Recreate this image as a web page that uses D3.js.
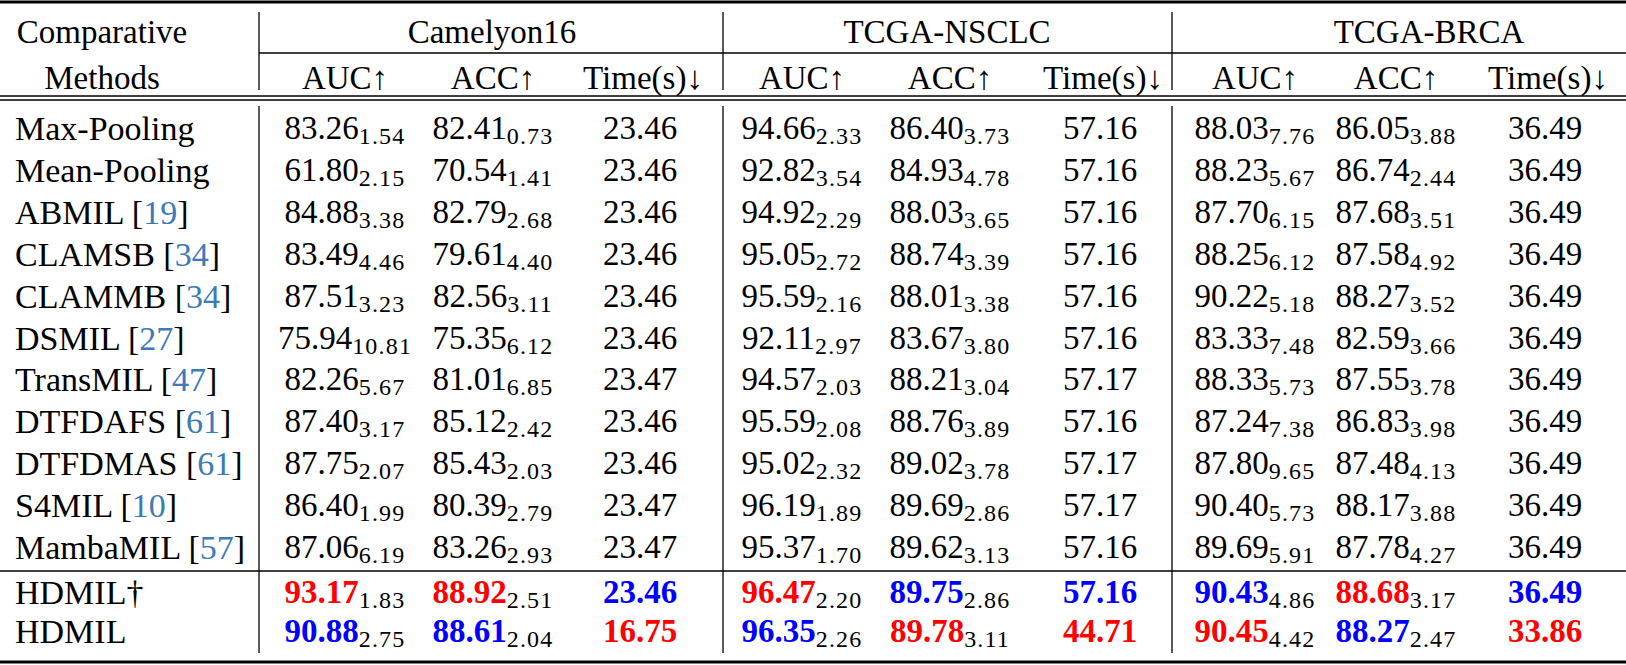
<!DOCTYPE html>
<html><head><meta charset="utf-8">
<script src="https://cdn.jsdelivr.net/npm/d3@7"></script>
<style>body{margin:0;background:#fff}</style></head>
<body><svg id="c" width="1626" height="665"></svg>
<script>
const methods = ["Max-Pooling","Mean-Pooling","ABMIL","CLAMSB","CLAMMB","DSMIL","TransMIL","DTFDAFS","DTFDMAS","S4MIL","MambaMIL","HDMIL†","HDMIL"];
const cites = ["","","19","34","34","27","47","61","61","10","57","",""];
const datasets = ["Camelyon16","TCGA-NSCLC","TCGA-BRCA"];
const metrics = ["AUC↑","ACC↑","Time(s)↓"];
// [mean, std] per row
const camAUC = [[83.26,1.54],[61.80,2.15],[84.88,3.38],[83.49,4.46],[87.51,3.23],[75.94,10.81],[82.26,5.67],[87.40,3.17],[87.75,2.07],[86.40,1.99],[87.06,6.19],[93.17,1.83],[90.88,2.75]];
const camACC = [[82.41,0.73],[70.54,1.41],[82.79,2.68],[79.61,4.40],[82.56,3.11],[75.35,6.12],[81.01,6.85],[85.12,2.42],[85.43,2.03],[80.39,2.79],[83.26,2.93],[88.92,2.51],[88.61,2.04]];
const camTime = [23.46,23.46,23.46,23.46,23.46,23.46,23.47,23.46,23.46,23.47,23.47,23.46,16.75];
const nsAUC = [[94.66,2.33],[92.82,3.54],[94.92,2.29],[95.05,2.72],[95.59,2.16],[92.11,2.97],[94.57,2.03],[95.59,2.08],[95.02,2.32],[96.19,1.89],[95.37,1.70],[96.47,2.20],[96.35,2.26]];
const nsACC = [[86.40,3.73],[84.93,4.78],[88.03,3.65],[88.74,3.39],[88.01,3.38],[83.67,3.80],[88.21,3.04],[88.76,3.89],[89.02,3.78],[89.69,2.86],[89.62,3.13],[89.75,2.86],[89.78,3.11]];
const nsTime = [57.16,57.16,57.16,57.16,57.16,57.16,57.17,57.16,57.17,57.17,57.16,57.16,44.71];
const brAUC = [[88.03,7.76],[88.23,5.67],[87.70,6.15],[88.25,6.12],[90.22,5.18],[83.33,7.48],[88.33,5.73],[87.24,7.38],[87.80,9.65],[90.40,5.73],[89.69,5.91],[90.43,4.86],[90.45,4.42]];
const brACC = [[86.05,3.88],[86.74,2.44],[87.68,3.51],[87.58,4.92],[88.27,3.52],[82.59,3.66],[87.55,3.78],[86.83,3.98],[87.48,4.13],[88.17,3.88],[87.78,4.27],[88.68,3.17],[88.27,2.47]];
const brTime = [36.49,36.49,36.49,36.49,36.49,36.49,36.49,36.49,36.49,36.49,36.49,36.49,33.86];
const hlDagger = ["r","r","b","r","b","b","b","r","b"];
const hlFinal  = ["b","b","r","b","r","r","r","b","r"];

const svg = d3.select("#c");
const SERIF = "'Liberation Serif','Times New Roman',serif";
const colX = [345,493,640,802,950,1100,1255,1396,1545];
const groupX = [492,947,1429];
const vlines = [259,723,1172];
const rowY = d3.scaleLinear().domain([0,10]).range([128,547]);
const yOf = i => i<11 ? rowY(i) : (i===11 ? 592 : 631);
const colorMap = {r:"#f00",b:"#00f"};

const line=(x1,y1,x2,y2,w)=>svg.append("line").attr("x1",x1).attr("y1",y1).attr("x2",x2).attr("y2",y2).attr("stroke","#000").attr("stroke-width",w);
line(0,2,1626,2,3);
line(259,53,1626,53,1.3);
line(0,96,1626,96,1.3);
line(0,100,1626,100,1.3);
line(0,571,1626,571,1.5);
line(0,662,1626,662,3);
vlines.forEach(x=>{line(x,12,x,90,1.3);line(x,106,x,653,1.3);});

const T=(x,y,s)=>svg.append("text").attr("x",x).attr("y",y).attr("text-anchor","middle")
  .attr("dominant-baseline","central").attr("font-family",SERIF).attr("font-size",33).text(s);
T(102,32,"Comparative");T(102,78,"Methods");
datasets.forEach((d,i)=>T(groupX[i],32,d));
colX.forEach((x,i)=>T(x+(i%3===2?3:0),78,metrics[i%3]));

methods.forEach((m,i)=>{
  const t=svg.append("text").attr("x",15).attr("y",yOf(i)).attr("dominant-baseline","central")
    .attr("font-family",SERIF).attr("font-size",34);
  t.append("tspan").text(m);
  if(cites[i]){t.append("tspan").text(" [");t.append("tspan").attr("fill","#3c7ab8").text(cites[i]);t.append("tspan").text("]");}
});

const cols=[camAUC,camACC,camTime,nsAUC,nsACC,nsTime,brAUC,brACC,brTime];
cols.forEach((col,c)=>{
  col.forEach((v,i)=>{
    const hl = i===11?hlDagger[c]:(i===12?hlFinal[c]:null);
    const t=svg.append("text").attr("x",colX[c]).attr("y",yOf(i)).attr("text-anchor","middle")
      .attr("dominant-baseline","central").attr("font-family",SERIF).attr("font-size",33);
    const main=t.append("tspan").text((Array.isArray(v)?v[0]:v).toFixed(2));
    if(hl) main.attr("fill",colorMap[hl]).attr("font-weight","bold");
    if(Array.isArray(v)) t.append("tspan").attr("font-size",24).attr("letter-spacing",1.2).attr("dy",8).text(v[1].toFixed(2));
  });
});
</script></body></html>
